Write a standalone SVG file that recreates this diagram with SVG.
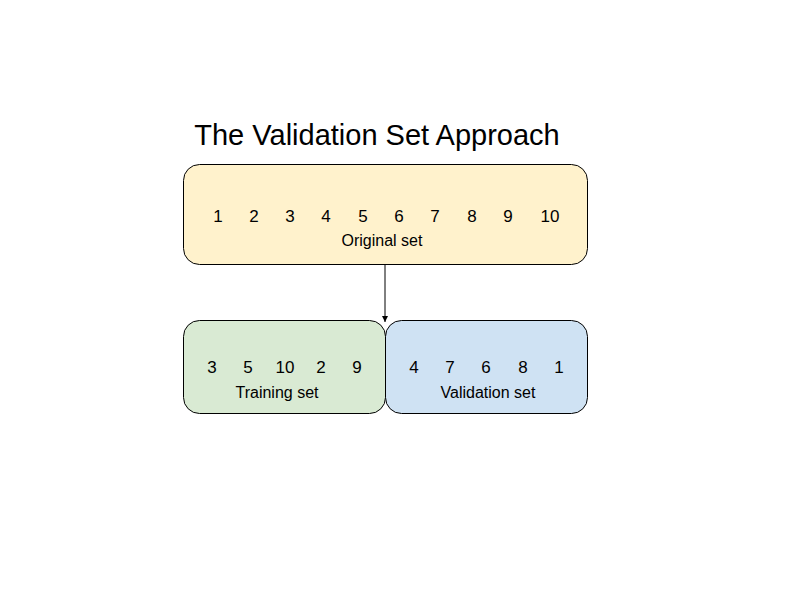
<svg xmlns="http://www.w3.org/2000/svg" width="800" height="600" viewBox="0 0 800 600">
<style>
text{font-family:"Liberation Sans",Arial,sans-serif;fill:#000;text-anchor:middle}
.n{font-size:17px}
.l{font-size:16px}
.box{stroke:#000;stroke-width:1}
</style>
<defs>
<marker id="ah" viewBox="0 0 10 10" refX="10" refY="5" markerWidth="6" markerHeight="6" orient="auto" markerUnits="userSpaceOnUse">
<path d="M0,0 L10,5 L0,10 z" fill="#000"/>
</marker>
</defs>
<rect width="800" height="600" fill="#fff"/>
<text x="377" y="145" style="font-size:29px">The Validation Set Approach</text>
<g id="connectors">
<line x1="385" y1="265" x2="385" y2="322" stroke="#000" stroke-width="1" marker-end="url(#ah)"/>
</g>
<g id="original">
<rect class="box" x="183.5" y="164.5" width="404" height="100" rx="16" fill="#fff2cc"/>
<text class="n" x="218" y="222">1</text>
<text class="n" x="254" y="222">2</text>
<text class="n" x="290" y="222">3</text>
<text class="n" x="326" y="222">4</text>
<text class="n" x="363" y="222">5</text>
<text class="n" x="399" y="222">6</text>
<text class="n" x="435" y="222">7</text>
<text class="n" x="472" y="222">8</text>
<text class="n" x="508" y="222">9</text>
<text class="n" x="550" y="222">10</text>
<text class="l" x="382" y="246">Original set</text>
</g>
<g id="training">
<rect class="box" x="183.5" y="320.5" width="202" height="93" rx="16" fill="#d9ead3"/>
<text class="n" x="212" y="373">3</text>
<text class="n" x="248" y="373">5</text>
<text class="n" x="285" y="373">10</text>
<text class="n" x="321" y="373">2</text>
<text class="n" x="357" y="373">9</text>
<text class="l" x="277" y="398">Training set</text>
</g>
<g id="validation">
<rect class="box" x="385.5" y="320.5" width="202" height="93" rx="16" fill="#cfe2f3"/>
<text class="n" x="414" y="373">4</text>
<text class="n" x="450" y="373">7</text>
<text class="n" x="486" y="373">6</text>
<text class="n" x="523" y="373">8</text>
<text class="n" x="559" y="373">1</text>
<text class="l" x="488" y="398">Validation set</text>
</g>
</svg>
